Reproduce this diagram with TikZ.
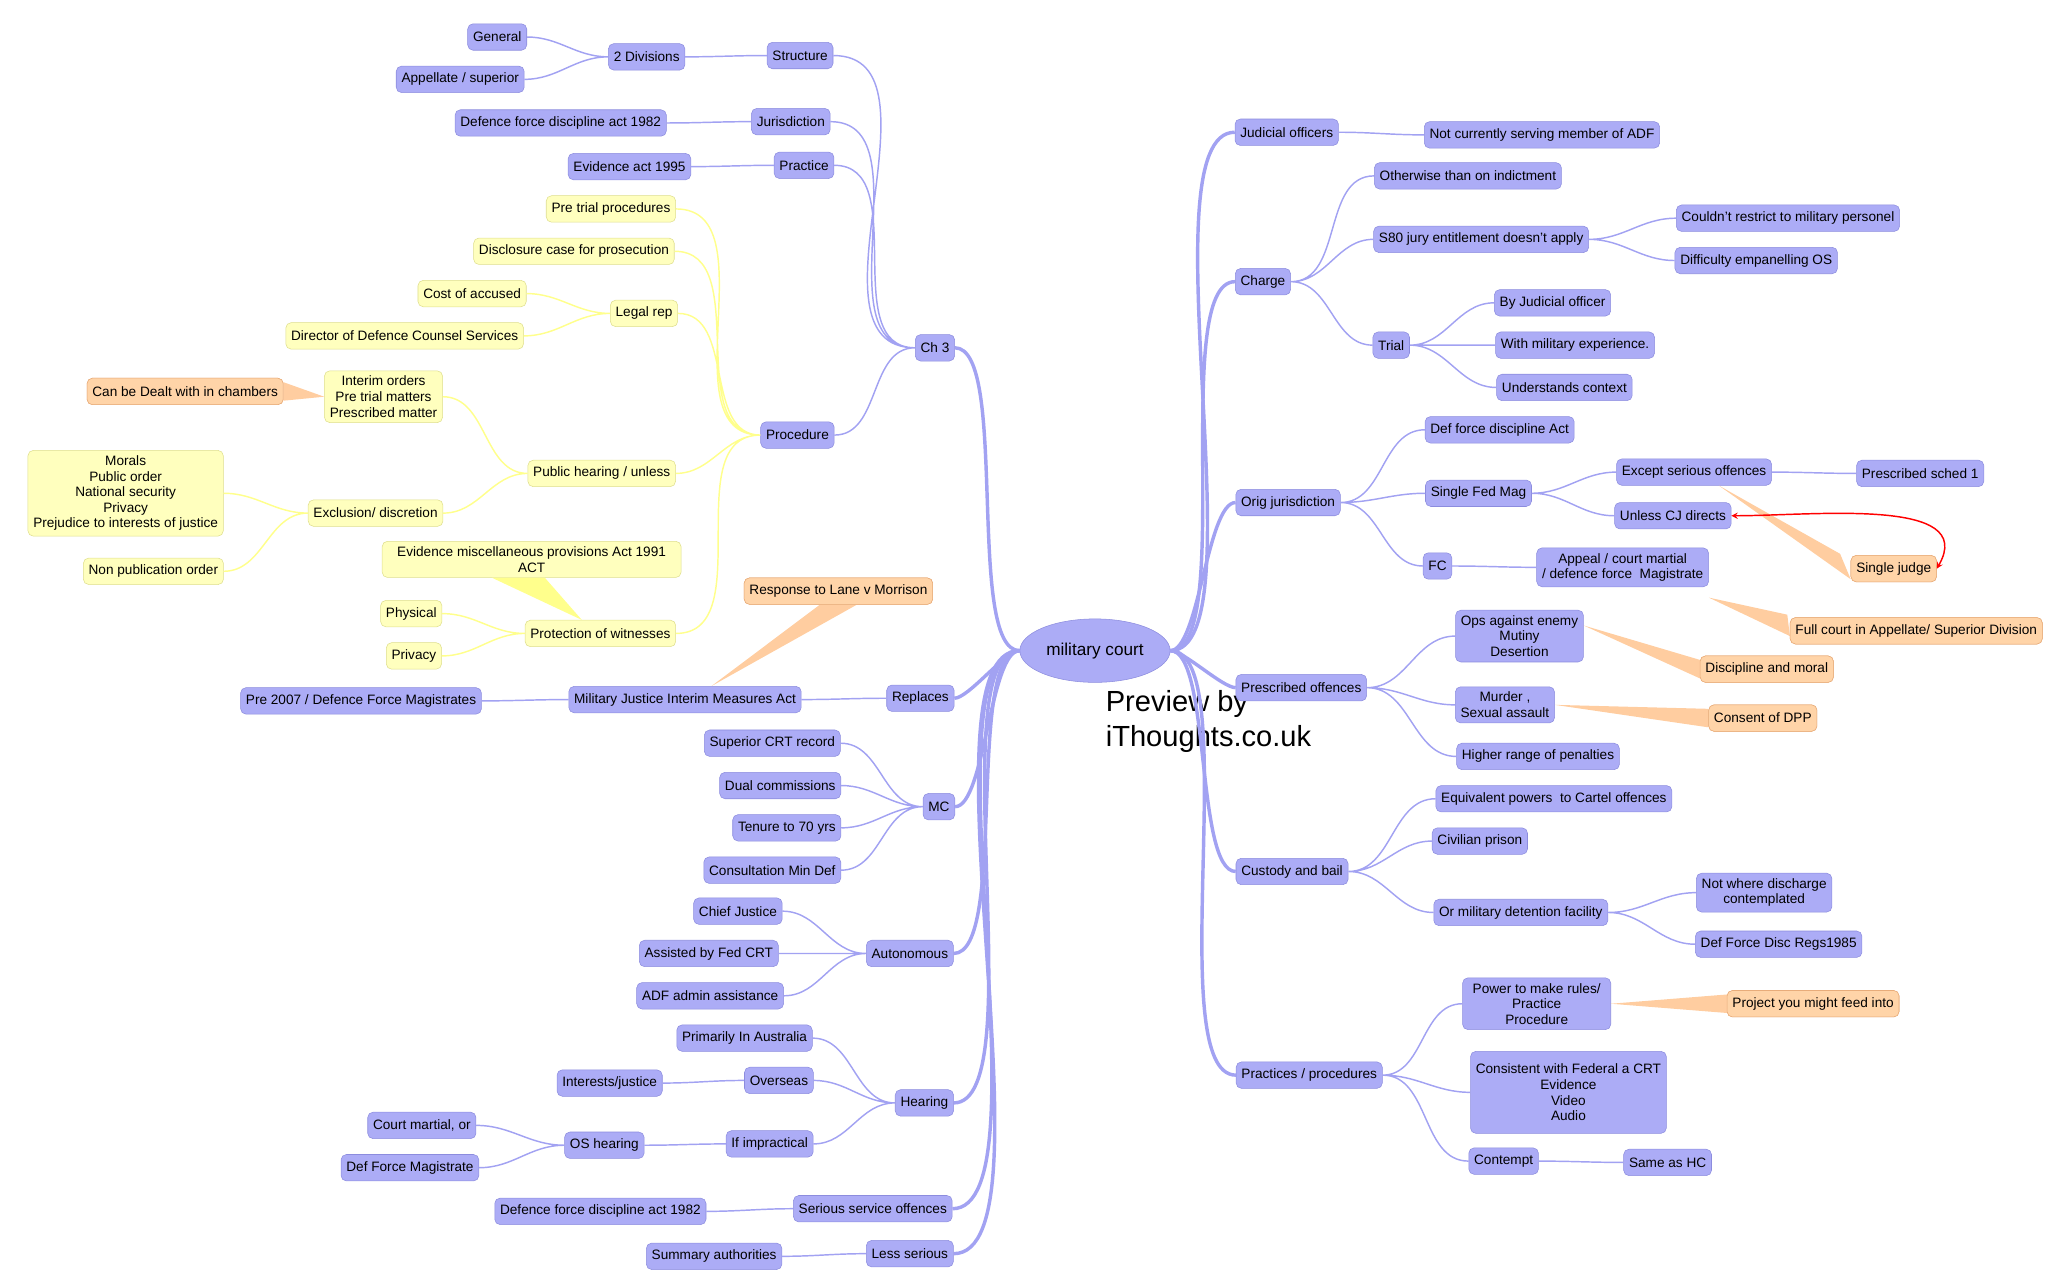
\documentclass[tikz,border=0pt]{standalone}
\usepackage{fontspec}
\setmainfont{Liberation Sans}
\usetikzlibrary{shapes.geometric}
\definecolor{bfill}{RGB}{172,172,246}
\definecolor{bline}{RGB}{140,140,222}
\definecolor{blk}{RGB}{162,162,242}
\definecolor{yfill}{RGB}{255,255,190}
\definecolor{yline}{RGB}{222,222,140}
\definecolor{ylk}{RGB}{255,255,140}
\definecolor{ofill}{RGB}{255,212,168}
\definecolor{oline}{RGB}{232,172,122}
\definecolor{owedge}{RGB}{255,205,160}
\begin{document}
\begin{tikzpicture}[x=1pt,y=-1pt,font=\fontsize{10.3}{11.8}\selectfont,
    box/.style={rounded corners=4pt, inner sep=4pt, minimum height=20pt, align=center},
    bnode/.style={box, fill=bfill, draw=bline},
    ynode/.style={box, fill=yfill, draw=yline},
    onode/.style={box, fill=ofill, draw=oline},
    blink/.style={draw=blk, line width=1.1pt},
    ylink/.style={draw=ylk, line width=1.1pt},
    trunk/.style={draw=blk, line width=2.6pt, looseness=0.45},
    toleft/.style={out=180, in=0},
    toright/.style={out=0, in=180},
    wedge/.style={fill=owedge},
    ywedge/.style={fill=ylk}]
    \useasboundingbox (0,0) rectangle (1560,973);

    % centre
    \node [ellipse, fill=bfill, draw=bline, minimum width=95pt, minimum height=48pt,
           font=\fontsize{13}{15}\selectfont] (court) at (828,492) {military court};
    \node [align=left, anchor=north west, font=\fontsize{22}{26}\selectfont, inner sep=0pt]
          at (836,522) {Preview by\\iThoughts.co.uk};

    % left side
    \node [bnode] (ch3) at (707,263) {Ch 3};
    \node [bnode] (structure) at (605,42) {Structure};
    \node [bnode] (div2) at (489,43) {2 Divisions};
    \node [bnode] (general) at (376,28) {General};
    \node [bnode] (appellate) at (348,60) {Appellate / superior};
    \node [bnode] (juris) at (598,92) {Jurisdiction};
    \node [bnode] (dfdaa) at (424,93) {Defence force discipline act 1982};
    \node [bnode] (practice) at (608,125) {Practice};
    \node [bnode] (evid) at (476,126) {Evidence act 1995};
    \node [bnode] (procedure) at (603,329) {Procedure};
    \node [ynode] (pretrial) at (462,158) {Pre trial procedures};
    \node [ynode] (disclosure) at (434,190) {Disclosure case for prosecution};
    \node [ynode] (legalrep) at (487,237) {Legal rep};
    \node [ynode] (costacc) at (357,222) {Cost of accused};
    \node [ynode] (dirdef) at (306,254) {Director of Defence Counsel Services};
    \node [ynode] (interim) at (290,300) {Interim orders\\Pre trial matters\\Prescribed matter};
    \node [onode] (chambers) at (140,296) {Can be Dealt with in chambers};
    \node [ynode] (pubhear) at (455,358) {Public hearing / unless};
    \node [ynode] (exclusion) at (284,388) {Exclusion/ discretion};
    \node [ynode] (morals) at (95,373) {Morals\\Public order\\National security\\Privacy\\Prejudice to interests of justice};
    \node [ynode] (nonpub) at (116,432) {Non publication order};
    \node [ynode] (protwit) at (454,479) {Protection of witnesses};
    \node [ynode, minimum width=226pt] (evmisc) at (402,423) {Evidence miscellaneous provisions Act 1991\\ACT};
    \node [ynode] (physical) at (311,464) {Physical};
    \node [ynode] (privw) at (313,496) {Privacy};
    \node [bnode] (replaces) at (696,528) {Replaces};
    \node [bnode] (mjima) at (518,529) {Military Justice Interim Measures Act};
    \node [bnode] (pre2007) at (273,530) {Pre 2007 / Defence Force Magistrates};
    \node [onode] (lane) at (634,447) {Response to Lane v Morrison};
    \node [bnode] (mc) at (710,610) {MC};
    \node [bnode] (supcrt) at (584,562) {Superior CRT record};
    \node [bnode] (dualc) at (590,594) {Dual commissions};
    \node [bnode] (tenure) at (595,626) {Tenure to 70 yrs};
    \node [bnode] (consult) at (584,658) {Consultation Min Def};
    \node [bnode] (autonomous) at (688,721) {Autonomous};
    \node [bnode] (chiefj) at (558,689) {Chief Justice};
    \node [bnode] (assisted) at (536,721) {Assisted by Fed CRT};
    \node [bnode] (adfadmin) at (537,753) {ADF admin assistance};
    \node [bnode] (hearing) at (699,834) {Hearing};
    \node [bnode] (primarily) at (563,785) {Primarily In Australia};
    \node [bnode] (overseas) at (589,817) {Overseas};
    \node [bnode] (interests) at (461,819) {Interests/justice};
    \node [bnode] (ifimpr) at (582,865) {If impractical};
    \node [bnode] (oshear) at (457,866) {OS hearing};
    \node [bnode] (courtm) at (319,851) {Court martial, or};
    \node [bnode] (defmag) at (310,883) {Def Force Magistrate};
    \node [bnode] (serious) at (660,914) {Serious service offences};
    \node [bnode] (dfdab) at (454,916) {Defence force discipline act 1982};
    \node [bnode] (lessser) at (688,948) {Less serious};
    \node [bnode] (summary) at (540,950) {Summary authorities};

    % right side
    \node [bnode] (judoff) at (973,100) {Judicial officers};
    \node [bnode] (notcurr) at (1166,102) {Not currently serving member of ADF};
    \node [bnode] (charge) at (955,213) {Charge};
    \node [bnode] (otherwise) at (1110,133) {Otherwise than on indictment};
    \node [bnode] (sjury) at (1120,181) {S80 jury entitlement doesn't apply};
    \node [bnode] (couldnt) at (1352,165) {Couldn't restrict to military personel};
    \node [bnode] (difficulty) at (1328,197) {Difficulty empanelling OS};
    \node [bnode] (trial) at (1052,261) {Trial};
    \node [bnode] (byjud) at (1174,229) {By Judicial officer};
    \node [bnode] (withmil) at (1191,261) {With military experience.};
    \node [bnode] (underst) at (1183,293) {Understands context};
    \node [bnode] (origjur) at (974,380) {Orig jurisdiction};
    \node [bnode] (defforce) at (1134,325) {Def force discipline Act};
    \node [bnode] (singlefed) at (1118,373) {Single Fed Mag};
    \node [bnode] (except) at (1281,357) {Except serious offences};
    \node [bnode] (prescr) at (1452,358) {Prescribed sched 1};
    \node [bnode] (unlesscj) at (1265,390) {Unless CJ directs};
    \node [onode] (singlejudge) at (1432,430) {Single judge};
    \node [bnode] (fc) at (1087,428) {FC};
    \node [bnode] (appeal) at (1227,429) {Appeal / court martial\\/ defence force\ \ Magistrate};
    \node [onode] (fullcourt) at (1449,477) {Full court in Appellate/ Superior Division};
    \node [bnode] (prescoff) at (984,520) {Prescribed offences};
    \node [bnode] (opsag) at (1149,481) {Ops against enemy\\Mutiny\\Desertion};
    \node [onode] (discmor) at (1336,506) {Discipline and moral};
    \node [bnode] (murder) at (1138,533) {Murder ,\\Sexual assault};
    \node [onode] (consent) at (1333,543) {Consent of DPP};
    \node [bnode] (higher) at (1163,572) {Higher range of penalties};
    \node [bnode] (custody) at (977,659) {Custody and bail};
    \node [bnode] (equiv) at (1175,604) {Equivalent powers\ \ to Cartel offences};
    \node [bnode] (civilian) at (1119,636) {Civilian prison};
    \node [bnode] (ormil) at (1150,690) {Or military detention facility};
    \node [bnode] (notwhere) at (1334,675) {Not where discharge\\contemplated};
    \node [bnode] (defregs) at (1345,714) {Def Force Disc Regs1985};
    \node [bnode] (practices) at (990,813) {Practices / procedures};
    \node [bnode, minimum width=112pt] (power) at (1162,759) {Power to make rules/\\Practice\\Procedure};
    \node [onode] (project) at (1371,759) {Project you might feed into};
    \node [bnode, minimum height=62pt] (consistent) at (1186,826) {Consistent with Federal a CRT\\Evidence\\Video\\Audio};
    \node [bnode] (contempt) at (1137,878) {Contempt};
    \node [bnode] (samehc) at (1261,879) {Same as HC};

    % trunks
    \draw [trunk] (court.west) to[out=180,in=0] (ch3.east);
    \draw [trunk] (court.west) to[out=180,in=0] (replaces.east);
    \draw [trunk] (court.west) to[out=180,in=0] (mc.east);
    \draw [trunk] (court.west) to[out=180,in=0] (autonomous.east);
    \draw [trunk] (court.west) to[out=180,in=0] (hearing.east);
    \draw [trunk] (court.west) to[out=180,in=0] (serious.east);
    \draw [trunk] (court.west) to[out=180,in=0] (lessser.east);
    \draw [trunk] (court.east) to[out=0,in=180] (judoff.west);
    \draw [trunk] (court.east) to[out=0,in=180] (charge.west);
    \draw [trunk] (court.east) to[out=0,in=180] (origjur.west);
    \draw [trunk] (court.east) to[out=0,in=180] (prescoff.west);
    \draw [trunk] (court.east) to[out=0,in=180] (custody.west);
    \draw [trunk] (court.east) to[out=0,in=180] (practices.west);

    % left links
    \draw [blink] (ch3.west) to[toleft] (structure.east)
                  (ch3.west) to[toleft] (juris.east)
                  (ch3.west) to[toleft] (practice.east)
                  (ch3.west) to[toleft] (procedure.east)
                  (structure.west) to[toleft] (div2.east)
                  (div2.west) to[toleft] (general.east)
                  (div2.west) to[toleft] (appellate.east)
                  (juris.west) to[toleft] (dfdaa.east)
                  (practice.west) to[toleft] (evid.east);
    \draw [ylink] (procedure.west) to[toleft] (pretrial.east)
                  (procedure.west) to[toleft] (disclosure.east)
                  (procedure.west) to[toleft] (legalrep.east)
                  (procedure.west) to[toleft] (pubhear.east)
                  (procedure.west) to[toleft] (protwit.east)
                  (legalrep.west) to[toleft] (costacc.east)
                  (legalrep.west) to[toleft] (dirdef.east)
                  (pubhear.west) to[toleft] (interim.east)
                  (pubhear.west) to[toleft] (exclusion.east)
                  (exclusion.west) to[toleft] (morals.east)
                  (exclusion.west) to[toleft] (nonpub.east)
                  (protwit.west) to[toleft] (physical.east)
                  (protwit.west) to[toleft] (privw.east);
    \draw [blink] (replaces.west) to[toleft] (mjima.east)
                  (mjima.west) to[toleft] (pre2007.east)
                  (mc.west) to[toleft] (supcrt.east)
                  (mc.west) to[toleft] (dualc.east)
                  (mc.west) to[toleft] (tenure.east)
                  (mc.west) to[toleft] (consult.east)
                  (autonomous.west) to[toleft] (chiefj.east)
                  (autonomous.west) to[toleft] (assisted.east)
                  (autonomous.west) to[toleft] (adfadmin.east)
                  (hearing.west) to[toleft] (primarily.east)
                  (hearing.west) to[toleft] (overseas.east)
                  (hearing.west) to[toleft] (ifimpr.east)
                  (overseas.west) to[toleft] (interests.east)
                  (ifimpr.west) to[toleft] (oshear.east)
                  (oshear.west) to[toleft] (courtm.east)
                  (oshear.west) to[toleft] (defmag.east)
                  (serious.west) to[toleft] (dfdab.east)
                  (lessser.west) to[toleft] (summary.east);

    % right links
    \draw [blink] (judoff.east) to[toright] (notcurr.west)
                  (charge.east) to[toright] (otherwise.west)
                  (charge.east) to[toright] (sjury.west)
                  (charge.east) to[toright] (trial.west)
                  (sjury.east) to[toright] (couldnt.west)
                  (sjury.east) to[toright] (difficulty.west)
                  (trial.east) to[toright] (byjud.west)
                  (trial.east) to[toright] (withmil.west)
                  (trial.east) to[toright] (underst.west)
                  (origjur.east) to[toright] (defforce.west)
                  (origjur.east) to[toright] (singlefed.west)
                  (origjur.east) to[toright] (fc.west)
                  (singlefed.east) to[toright] (except.west)
                  (singlefed.east) to[toright] (unlesscj.west)
                  (except.east) to[toright] (prescr.west)
                  (fc.east) to[toright] (appeal.west)
                  (prescoff.east) to[toright] (opsag.west)
                  (prescoff.east) to[toright] (murder.west)
                  (prescoff.east) to[toright] (higher.west)
                  (custody.east) to[toright] (equiv.west)
                  (custody.east) to[toright] (civilian.west)
                  (custody.east) to[toright] (ormil.west)
                  (ormil.east) to[toright] (notwhere.west)
                  (ormil.east) to[toright] (defregs.west)
                  (practices.east) to[toright] (power.west)
                  (practices.east) to[toright] (consistent.west)
                  (practices.east) to[toright] (contempt.west)
                  (contempt.east) to[toright] (samehc.west);

    % callouts
    \fill [wedge] ([xshift=20pt]mjima.north) -- ([xshift=-14pt]lane.south) -- ([xshift=14pt]lane.south) -- cycle;
    \fill [wedge] (interim.west) -- ([yshift=-7pt]chambers.east) -- ([yshift=7pt]chambers.east) -- cycle;
    \fill [ywedge] ([xshift=-14pt]protwit.north) -- ([xshift=-30pt]evmisc.south) -- ([xshift=10pt]evmisc.south) -- cycle;
    \fill [wedge] ([xshift=-40pt]except.south east) -- ([xshift=-8pt,yshift=1pt]singlejudge.north west) -- ([yshift=-8pt]singlejudge.west) -- cycle;
    \fill [wedge] ([yshift=-8pt]appeal.south east) -- ([xshift=-2pt,yshift=2pt]fullcourt.north west) -- ([yshift=-4pt]fullcourt.west) -- cycle;
    \fill [wedge] ([yshift=8pt]opsag.east) -- ([yshift=-7pt]discmor.west) -- ([yshift=7pt]discmor.west) -- cycle;
    \fill [wedge] (murder.east) -- ([yshift=-7pt]consent.west) -- ([yshift=7pt]consent.west) -- cycle;
    \fill [wedge] (power.east) -- ([yshift=-7pt]project.west) -- ([yshift=7pt]project.west) -- cycle;
    \node [onode] at (singlejudge) {Single judge};
    \node [onode] at (fullcourt) {Full court in Appellate/ Superior Division};
    \node [onode] at (discmor) {Discipline and moral};
    \node [onode] at (consent) {Consent of DPP};
    \node [onode] at (project) {Project you might feed into};
    \node [onode] at (lane) {Response to Lane v Morrison};
    \node [onode] at (chambers) {Can be Dealt with in chambers};

    \draw [red, line width=1.1pt, <->, >=stealth] (unlesscj.east) to[out=0,in=60] (singlejudge.east);
\end{tikzpicture}
\end{document}
